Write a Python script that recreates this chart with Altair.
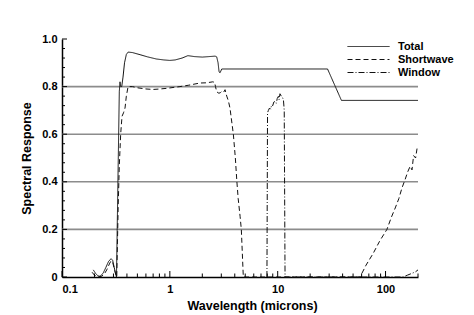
import altair as alt
import pandas as pd

# ---------------- data ----------------
series_names = ["Total", "Shortwave", "Window"]

total_wl = [0.195, 0.205, 0.215, 0.225, 0.24, 0.255, 0.27, 0.285, 0.295, 0.305,
            0.315, 0.32, 0.33, 0.34, 0.345, 0.35, 0.358, 0.368, 0.38, 0.395,
            0.41, 0.45, 0.53, 0.62, 0.75, 0.88, 1.0, 1.12, 1.3, 1.47,
            1.7, 2.0, 2.3, 2.63, 2.72, 2.8, 2.86, 2.92, 3.03, 29,
            39, 200]
total_r = [0.03, 0.015, 0.005, 0.003, 0.015, 0.04, 0.065, 0.077, 0.07, 0.04,
           0.012, 0.0, 0.4, 0.78, 0.82, 0.80, 0.80, 0.84, 0.90, 0.935,
           0.945, 0.943, 0.934, 0.925, 0.916, 0.912, 0.91, 0.912, 0.92, 0.93,
           0.926, 0.924, 0.926, 0.928, 0.925, 0.9, 0.862, 0.858, 0.874, 0.874,
           0.742, 0.742]

sw_wl = [0.19, 0.2, 0.215, 0.23, 0.245, 0.26, 0.275, 0.285, 0.295, 0.305,
         0.315, 0.322, 0.332, 0.34, 0.35, 0.36, 0.372, 0.384, 0.395, 0.41,
         0.45, 0.5, 0.6, 0.7, 0.81, 0.95, 1.1, 1.24, 1.5, 1.9,
         2.2, 2.5, 2.6, 2.65, 2.72, 2.85, 2.95, 3.03, 3.15, 3.25,
         3.37, 3.49, 3.61, 3.88, 4.05, 4.17, 4.3, 4.48, 4.6, 4.7,
         4.8, 58, 66, 77, 88, 103, 113, 123, 133, 142,
         152, 160, 169, 176, 182, 190, 196, 200]
sw_r = [0.02, 0.008, 0.002, 0.002, 0.01, 0.03, 0.055, 0.068, 0.062, 0.035,
        0.01, 0.0, 0.3, 0.47, 0.6, 0.675, 0.69, 0.71, 0.76, 0.80,
        0.80, 0.795, 0.79, 0.788, 0.79, 0.793, 0.797, 0.80, 0.806, 0.815,
        0.816, 0.82, 0.818, 0.80, 0.778, 0.772, 0.775, 0.78, 0.776, 0.787,
        0.76, 0.74, 0.71, 0.6, 0.5, 0.41, 0.33, 0.255, 0.2, 0.1,
        0.0, 0.0, 0.05, 0.10, 0.15, 0.2, 0.25, 0.29, 0.33, 0.374,
        0.41, 0.44, 0.465, 0.45, 0.51, 0.50, 0.54, 0.53]

win_wl = [7.95, 8.05, 8.2, 8.4, 8.6, 8.8, 9.0, 9.2, 9.46, 9.7,
          9.9, 10.15, 10.3, 10.5, 10.8, 11.05, 11.3, 11.5, 11.7, 146,
          160, 175, 190, 200]
win_r = [0.0, 0.69, 0.70, 0.71, 0.705, 0.724, 0.72, 0.735, 0.738, 0.73,
         0.75, 0.759, 0.745, 0.77, 0.76, 0.755, 0.745, 0.70, 0.0, 0.0,
         0.008, 0.015, 0.022, 0.03]

y_label_values = [0, 0.2, 0.4, 0.6, 0.8, 1.0]
y_minor_values = [i * 0.04 for i in range(26) if i % 5]
grid_values = [0.2, 0.4, 0.6, 0.8]
x_label_values = [0.1, 1, 10, 100]
x_minor_values = [m * 10 ** e for e in (-1, 0, 1, 2) for m in range(2, 10) if m * 10 ** e <= 200]


def frame(name, wl, r):
    return pd.DataFrame([{"series": name, "wl": a, "resp": b} for a, b in zip(wl, r, strict=True)])


df_lines = pd.concat([frame("Total", total_wl, total_r),
                      frame("Shortwave", sw_wl, sw_r),
                      frame("Window", win_wl, win_r)])
df_grid = pd.DataFrame({"g": grid_values})

# ---------------- layout ----------------
W, H = 356, 238
FONT = "Liberation Sans"

xscale = alt.Scale(type="log", domain=[0.1, 200], nice=False)
yscale = alt.Scale(domain=[0, 1], nice=False, zero=False)
dash_scale = alt.Scale(domain=series_names, range=[[1, 0], [5, 3], [6, 2, 1, 2]])

legend = alt.Legend(
    title=None, orient="none", legendX=299, legendY=0,
    symbolType="M-3,0H3", symbolSize=196, symbolStrokeWidth=1,
    symbolStrokeColor="#111", symbolFillColor="transparent",
    labelFont=FONT, labelFontSize=11, labelFontWeight="bold", labelColor="black",
    labelOffset=22, rowPadding=0,
)

grid = alt.Chart(df_grid).mark_rule(color="#8c8c8c", strokeWidth=1.6).encode(
    y=alt.Y("g:Q", scale=yscale, axis=None)
)

lines = alt.Chart(df_lines).mark_line(color="#111", strokeWidth=1).encode(
    x=alt.X("wl:Q", scale=xscale,
            axis=alt.Axis(orient="bottom", values=x_label_values, format="~g", ticks=False,
                          tickSize=0, domainColor="black", domainWidth=1.5, grid=False,
                          labelFont=FONT, labelFontSize=11, labelFontWeight="bold",
                          labelColor="black", labelPadding=6, labelFlush=True,
                          title="Wavelength (microns)", titleFont=FONT, titleFontSize=12.5,
                          titleFontWeight="bold", titleColor="black", titlePadding=5,
                          titleX=190, titleAlign="center")),
    y=alt.Y("resp:Q", scale=yscale,
            axis=alt.Axis(orient="left", values=y_label_values,
                          labelExpr="datum.value == 0 ? '0' : format(datum.value, '.1f')",
                          ticks=False, tickSize=0, domainColor="black", domainWidth=1.5,
                          grid=False, labelFont=FONT, labelFontSize=11, labelFontWeight="bold",
                          labelColor="black", labelPadding=5, labelFlush=False,
                          title="Spectral Response", titleFont=FONT, titleFontSize=12.5,
                          titleFontWeight="bold", titleColor="black", titlePadding=8)),
    strokeDash=alt.StrokeDash("series:N", scale=dash_scale, legend=legend),
    detail="series:N",
)


def x_ticks(values, length):
    # inward ticks on the bottom axis, placed by the x scale
    return alt.Chart(pd.DataFrame({"v": values})).mark_rule(
        color="black", strokeWidth=1, y2Offset=-length
    ).encode(
        x=alt.X("v:Q", scale=xscale, axis=None),
        y=alt.Y(datum=0, scale=yscale, axis=None),
        y2=alt.Y2(datum=0),
    )


def y_ticks(values, length):
    # inward ticks on the left axis, placed by the y scale
    return alt.Chart(pd.DataFrame({"v": values})).mark_rule(
        color="black", strokeWidth=1, x2Offset=length
    ).encode(
        y=alt.Y("v:Q", scale=yscale, axis=None),
        x=alt.X(datum=0.1, scale=xscale, axis=None),
        x2=alt.X2(datum=0.1),
    )


chart = (
    alt.layer(grid, lines,
              x_ticks(x_label_values, 6), x_ticks(x_minor_values, 3.5),
              y_ticks(y_label_values, 5), y_ticks(y_minor_values, 3))
    .resolve_axis(x="independent", y="independent")
    .properties(width=W, height=H, autosize=alt.AutoSizeParams(type="none"),
                padding={"left": 62, "top": 39, "right": 56, "bottom": 38},
                background="white")
    .configure_view(stroke=None)
)

chart.save("out.html", embed_options={"renderer": "svg", "actions": False})
